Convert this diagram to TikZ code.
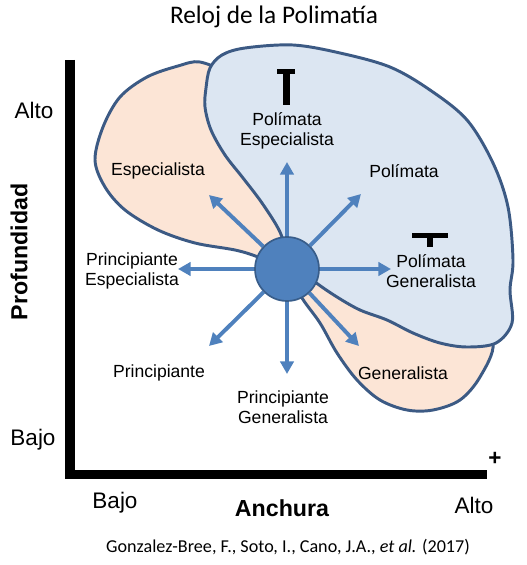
\documentclass[tikz,border=0pt]{standalone}
\usepackage{fontspec}
\setmainfont{Liberation Sans}
\newfontfamily\calibrifont{Carlito}
\usepackage{tikz}
\usetikzlibrary{positioning, arrows.meta}
\usepackage{xcolor}
\definecolor{blobblue}{RGB}{220,230,242}
\definecolor{blobpeach}{RGB}{252,229,214}
\definecolor{blobline}{RGB}{60,90,132}
\definecolor{hubblue}{RGB}{79,129,189}
\definecolor{hubline}{RGB}{56,93,138}

\begin{document}
\begin{tikzpicture}[x=0.025cm, y=-0.025cm,
    lbl/.style={font=\fontsize{12.5}{14.5}\selectfont, align=center, inner sep=0pt},
    axislbl/.style={font=\fontsize{16}{18}\selectfont, inner sep=0pt},
    blob/.style={draw=blobline, line width=2.1pt, line join=round},
    ray/.style={hubblue, line width=2.8pt, -{Triangle[length=9pt,width=9.5pt]}}]
        \useasboundingbox (0,0) rectangle (526,565);
        % title
        \node[font=\calibrifont\fontsize{18}{20}\selectfont] (title) at (274,17) {Reloj de la Polimatía};
        % zones
        \path[blob, fill=blobpeach] plot[smooth cycle, tension=0.55] coordinates {
          (200,62) (178,66) (147,77) (120,97) (103,127) (95,160) (105,187) (125,210)
          (158,230) (195,243) (235,250) (258,257) (287,270) (302,298) (320,323)
          (337,353) (357,380) (380,400) (407,410) (433,410) (460,400) (480,377)
          (493,343) (470,310) (400,250) (300,190) (240,110) (225,75)};
        \path[blob, fill=blobblue] plot[smooth cycle, tension=0.55] coordinates {
          (210,68) (222,55) (245,48) (293,45) (340,53) (390,67) (430,90) (467,120) (493,163)
          (508,207) (513,260) (510,290) (512,323) (496,343) (467,347) (440,343)
          (413,333) (387,320) (360,310) (337,297) (315,282) (290,262) (280,232)
          (262,203) (243,178) (225,155) (211,130) (205,107) (206,88)};
        % axes
        \draw[line width=7.1pt, line join=miter] (70,60) -- (70,474.5) -- (487,474.5);
        \node[font=\bfseries\fontsize{16}{16}\selectfont, inner sep=0pt] (plus) at (495,459) {+};
        \node[axislbl] (ytop) at (34,110) {Alto};
        \node[axislbl] (ybot) at (33,440) {Bajo};
        \node[axislbl] (xleft) at (115,503) {Bajo};
        \node[axislbl] (xright) at (474,505) {Alto};
        \node[axislbl, font=\bfseries\fontsize{16.5}{18}\selectfont, rotate=90] (ytitle) at (19,252) {Profundidad};
        \node[axislbl, font=\bfseries\fontsize{16.5}{18}\selectfont] (xtitle) at (282,508) {Anchura};
        \node[font=\calibrifont\fontsize{12.9}{14}\selectfont] (cite) at (288,547)
          {Gonzalez-Bree, F., Soto, I., Cano, J.A., \textit{et al.} (2017)};
        % hub and rays
        \node[circle, fill=hubblue, draw=hubline, line width=1.2pt, minimum size=64*0.025cm, inner sep=0pt] (hub) at (287,269) {};
        \coordinate (tipN) at (287,162);
        \coordinate (tipNE) at (361,194);
        \coordinate (tipE) at (391,269);
        \coordinate (tipSE) at (359,346);
        \coordinate (tipS) at (287,374);
        \coordinate (tipSW) at (209,346);
        \coordinate (tipW) at (178,269);
        \coordinate (tipNW) at (209,195);
        \foreach \t in {N,NE,E,SE,S,SW,W,NW}
          \draw[ray] (hub) -- (tip\t);
        % T shapes
        \fill (277,69) rectangle (295,74);
        \fill (283,69) rectangle (290,105);
        \fill (412,233) rectangle (448,238);
        \fill (427,233) rectangle (433,247);
        % labels
        \node[lbl] (polesp) at (287,131) {Polímata\\Especialista};
        \node[lbl] (esp) at (158,171) {Especialista};
        \node[lbl] (pol) at (404,171) {Polímata};
        \node[lbl] (prinesp) at (132,271) {Principiante\\Especialista};
        \node[lbl] (polgen) at (431,271) {Polímata\\Generalista};
        \node[lbl] (prin) at (159,373) {Principiante};
        \node[lbl] (pringen) at (283,407) {Principiante\\Generalista};
        \node[lbl] (gen) at (403,373) {Generalista};
\end{tikzpicture}
\end{document}
